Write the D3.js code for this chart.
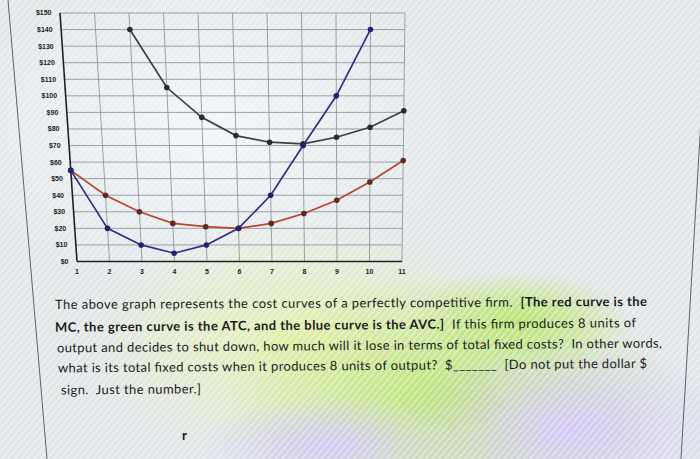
<!DOCTYPE html>
<html>
<head>
<meta charset="utf-8">
<script src="https://cdn.jsdelivr.net/npm/d3@7"></script>
<style>
  html, body { margin: 0; padding: 0; background: #e3e9eb; }
  #chart { width: 700px; height: 459px; }
  .tick-label { font-family: "Liberation Sans", Arial, sans-serif; font-weight: bold; font-size: 7px; fill: #222; }
  .copy { font-family: Lato, "Open Sans", sans-serif; font-size: 13px; fill: #1c1c1c; white-space: pre; }
</style>
</head>
<body>
<div id="chart"></div>
<script>
// values
var quantity = [1, 2, 3, 4, 5, 6, 7, 8, 9, 10, 11];
var mcValues = [55, 40, 30, 23, 21, 20, 23, 29, 37, 48, 61];
var avcValues = [55, 20, 10, 5, 10, 20, 40, 70, 100, 140, null];
var atcValues = [null, null, 140, 105, 87, 76, 72, 71, 75, 81, 91];
var yTickValues = [0, 10, 20, 30, 40, 50, 60, 70, 80, 90, 100, 110, 120, 130, 140, 150];

var questionLines = [
    [["The above graph represents the cost curves of a perfectly competitive firm.  ", false], ["[The red curve is the", true]],
    [["MC, the green curve is the ATC, and the blue curve is the AVC.]", true], ["  If this firm produces 8 units of", false]],
    [["output and decides to shut down, how much will it lose in terms of total fixed costs?  In other words,", false]],
    [["what is its total fixed costs when it produces 8 units of output?  $_______  [Do not put the dollar $", false]],
    [["sign.  Just the number.]", false]]
];

var width = 700, height = 459;

var svg = d3.select("#chart")
    .append("svg")
    .attr("width", width)
    .attr("height", height);

// background, a washed out photo of a screen
var defs = svg.append("defs");

function radial(id, color, op) {
    var g = defs.append("radialGradient").attr("id", id);
    g.append("stop").attr("offset", "0%").attr("stop-color", color).attr("stop-opacity", op);
    g.append("stop").attr("offset", "100%").attr("stop-color", color).attr("stop-opacity", 0);
}
radial("gGreen", "#b9e46e", 1);
radial("gLav", "#d2c6f6", 1);
radial("gYel", "#e4f2a8", 0.9);
radial("gWhite", "#f4f7fb", 0.9);

var stripes = defs.append("pattern")
    .attr("id", "stripes")
    .attr("width", 5).attr("height", 5)
    .attr("patternUnits", "userSpaceOnUse")
    .attr("patternTransform", "rotate(40)");
stripes.append("rect").attr("width", 2).attr("height", 5).attr("fill", "#ffffff").attr("opacity", 0.35);

svg.append("rect").attr("width", width).attr("height", height).attr("fill", "#e0e6e8");
svg.append("ellipse").attr("cx", 210).attr("cy", 130).attr("rx", 260).attr("ry", 170).attr("fill", "url(#gWhite)");
svg.append("ellipse").attr("cx", 300).attr("cy", 340).attr("rx", 220).attr("ry", 120).attr("fill", "url(#gYel)");
svg.append("ellipse").attr("cx", 450).attr("cy", 400).attr("rx", 230).attr("ry", 130).attr("fill", "url(#gGreen)");
svg.append("ellipse").attr("cx", 570).attr("cy", 430).attr("rx", 170).attr("ry", 90).attr("fill", "url(#gLav)");
svg.append("ellipse").attr("cx", 330).attr("cy", 445).attr("rx", 130).attr("ry", 50).attr("fill", "url(#gLav)");
svg.append("ellipse").attr("cx", 520).attr("cy", 320).attr("rx", 110).attr("ry", 50).attr("fill", "url(#gGreen)");
svg.append("rect").attr("width", width).attr("height", height).attr("fill", "url(#stripes)");

// page edges
svg.append("line").attr("x1", 8).attr("y1", 0).attr("x2", 47).attr("y2", height)
    .attr("stroke", "#5d6466").attr("stroke-width", 1);
svg.append("line").attr("x1", 708).attr("y1", 0).attr("x2", 681).attr("y2", height)
    .attr("stroke", "#5d6466").attr("stroke-width", 1);

// scales; the photo is taken at an angle so x range at the top differs from the bottom
var yScale = d3.scaleLinear().domain([0, 150]).range([261.5, 13]);
var xBottom = d3.scaleLinear().domain([1, 11]).range([77, 402]);
var xTop = d3.scaleLinear().domain([1, 11]).range([60, 405]);

function px(q, v) {
    var t = v / 150;
    return xBottom(q) * (1 - t) + xTop(q) * t;
}

var chart = svg.append("g");

// grid
chart.selectAll(".hgrid")
    .data(yTickValues.filter(function(v) { return v > 0; }))
    .enter()
    .append("line")
    .attr("class", "hgrid")
    .attr("x1", function(v) { return px(1, v); })
    .attr("x2", function(v) { return px(11, v); })
    .attr("y1", function(v) { return yScale(v); })
    .attr("y2", function(v) { return yScale(v); })
    .attr("stroke", "#8f989e")
    .attr("stroke-width", 0.9);

chart.selectAll(".vgrid")
    .data(quantity.filter(function(q) { return q > 1; }))
    .enter()
    .append("line")
    .attr("class", "vgrid")
    .attr("x1", function(q) { return px(q, 0); })
    .attr("x2", function(q) { return px(q, 150); })
    .attr("y1", yScale(0))
    .attr("y2", yScale(150))
    .attr("stroke", "#8f989e")
    .attr("stroke-width", 0.9);

// axes
chart.append("line")
    .attr("x1", px(1, 0)).attr("y1", yScale(0))
    .attr("x2", px(1, 150)).attr("y2", yScale(150))
    .attr("stroke", "#1e2224").attr("stroke-width", 1.6);
chart.append("line")
    .attr("x1", px(1, 0)).attr("y1", yScale(0))
    .attr("x2", px(11, 0)).attr("y2", yScale(0))
    .attr("stroke", "#1e2224").attr("stroke-width", 1.6);

chart.selectAll(".ylab")
    .data(yTickValues)
    .enter()
    .append("text")
    .attr("class", "tick-label")
    .attr("x", function(v) { return px(1, v) - 8.5; })
    .attr("y", function(v) { return yScale(v); })
    .attr("dy", "0.35em")
    .attr("text-anchor", "end")
    .text(function(v) { return "$" + v; });

chart.selectAll(".xlab")
    .data(quantity)
    .enter()
    .append("text")
    .attr("class", "tick-label")
    .attr("x", function(q) { return px(q, 0); })
    .attr("y", yScale(0) + 10.5)
    .attr("dy", "0.35em")
    .attr("text-anchor", "middle")
    .text(function(q) { return q; });

// curves
var series = [
    {name: "ATC", values: atcValues, line: "#35443b", dot: "#263029"},
    {name: "MC", values: mcValues, line: "#b8452c", dot: "#5e2a22"},
    {name: "AVC", values: avcValues, line: "#2e2e8e", dot: "#22226e"}
];

var lineGen = d3.line()
    .defined(function(d) { return d.v != null; })
    .x(function(d) { return px(d.q, d.v); })
    .y(function(d) { return yScale(d.v); });

series.forEach(function(s) {
    var pts = quantity.map(function(q, i) { return {q: q, v: s.values[i]}; });

    chart.append("path")
        .datum(pts)
        .attr("d", lineGen)
        .attr("fill", "none")
        .attr("stroke", s.line)
        .attr("stroke-width", 1.7);

    chart.selectAll(".dot-" + s.name)
        .data(pts.filter(function(d) { return d.v != null; }))
        .enter()
        .append("circle")
        .attr("cx", function(d) { return px(d.q, d.v); })
        .attr("cy", function(d) { return yScale(d.v); })
        .attr("r", 2.8)
        .attr("fill", s.dot);
});

// question text underneath, lines drift a bit because of the camera angle
var linePos = [
    {x: 55, y: 309, len: 592, rot: -0.29},
    {x: 55, y: 331.8, len: 581, rot: -0.45},
    {x: 57, y: 352.4, len: 605, rot: -0.45},
    {x: 58, y: 372.5, len: 589, rot: -0.45},
    {x: 61, y: 394.5, len: 140, rot: -0.45}
];

questionLines.forEach(function(parts, i) {
    var p = linePos[i];
    var t = svg.append("text")
        .attr("class", "copy")
        .attr("x", p.x)
        .attr("y", p.y)
        .attr("transform", "rotate(" + p.rot + "," + p.x + "," + p.y + ")");
    parts.forEach(function(part) {
        t.append("tspan")
            .attr("font-weight", part[1] ? "bold" : "normal")
            .text(part[0]);
    });
    t.attr("textLength", p.len).attr("lengthAdjust", "spacing");
});

svg.append("text")
    .attr("class", "copy")
    .attr("x", 182)
    .attr("y", 440)
    .attr("font-size", 8)
    .attr("font-weight", "bold")
    .text("r");
</script>
</body>
</html>
